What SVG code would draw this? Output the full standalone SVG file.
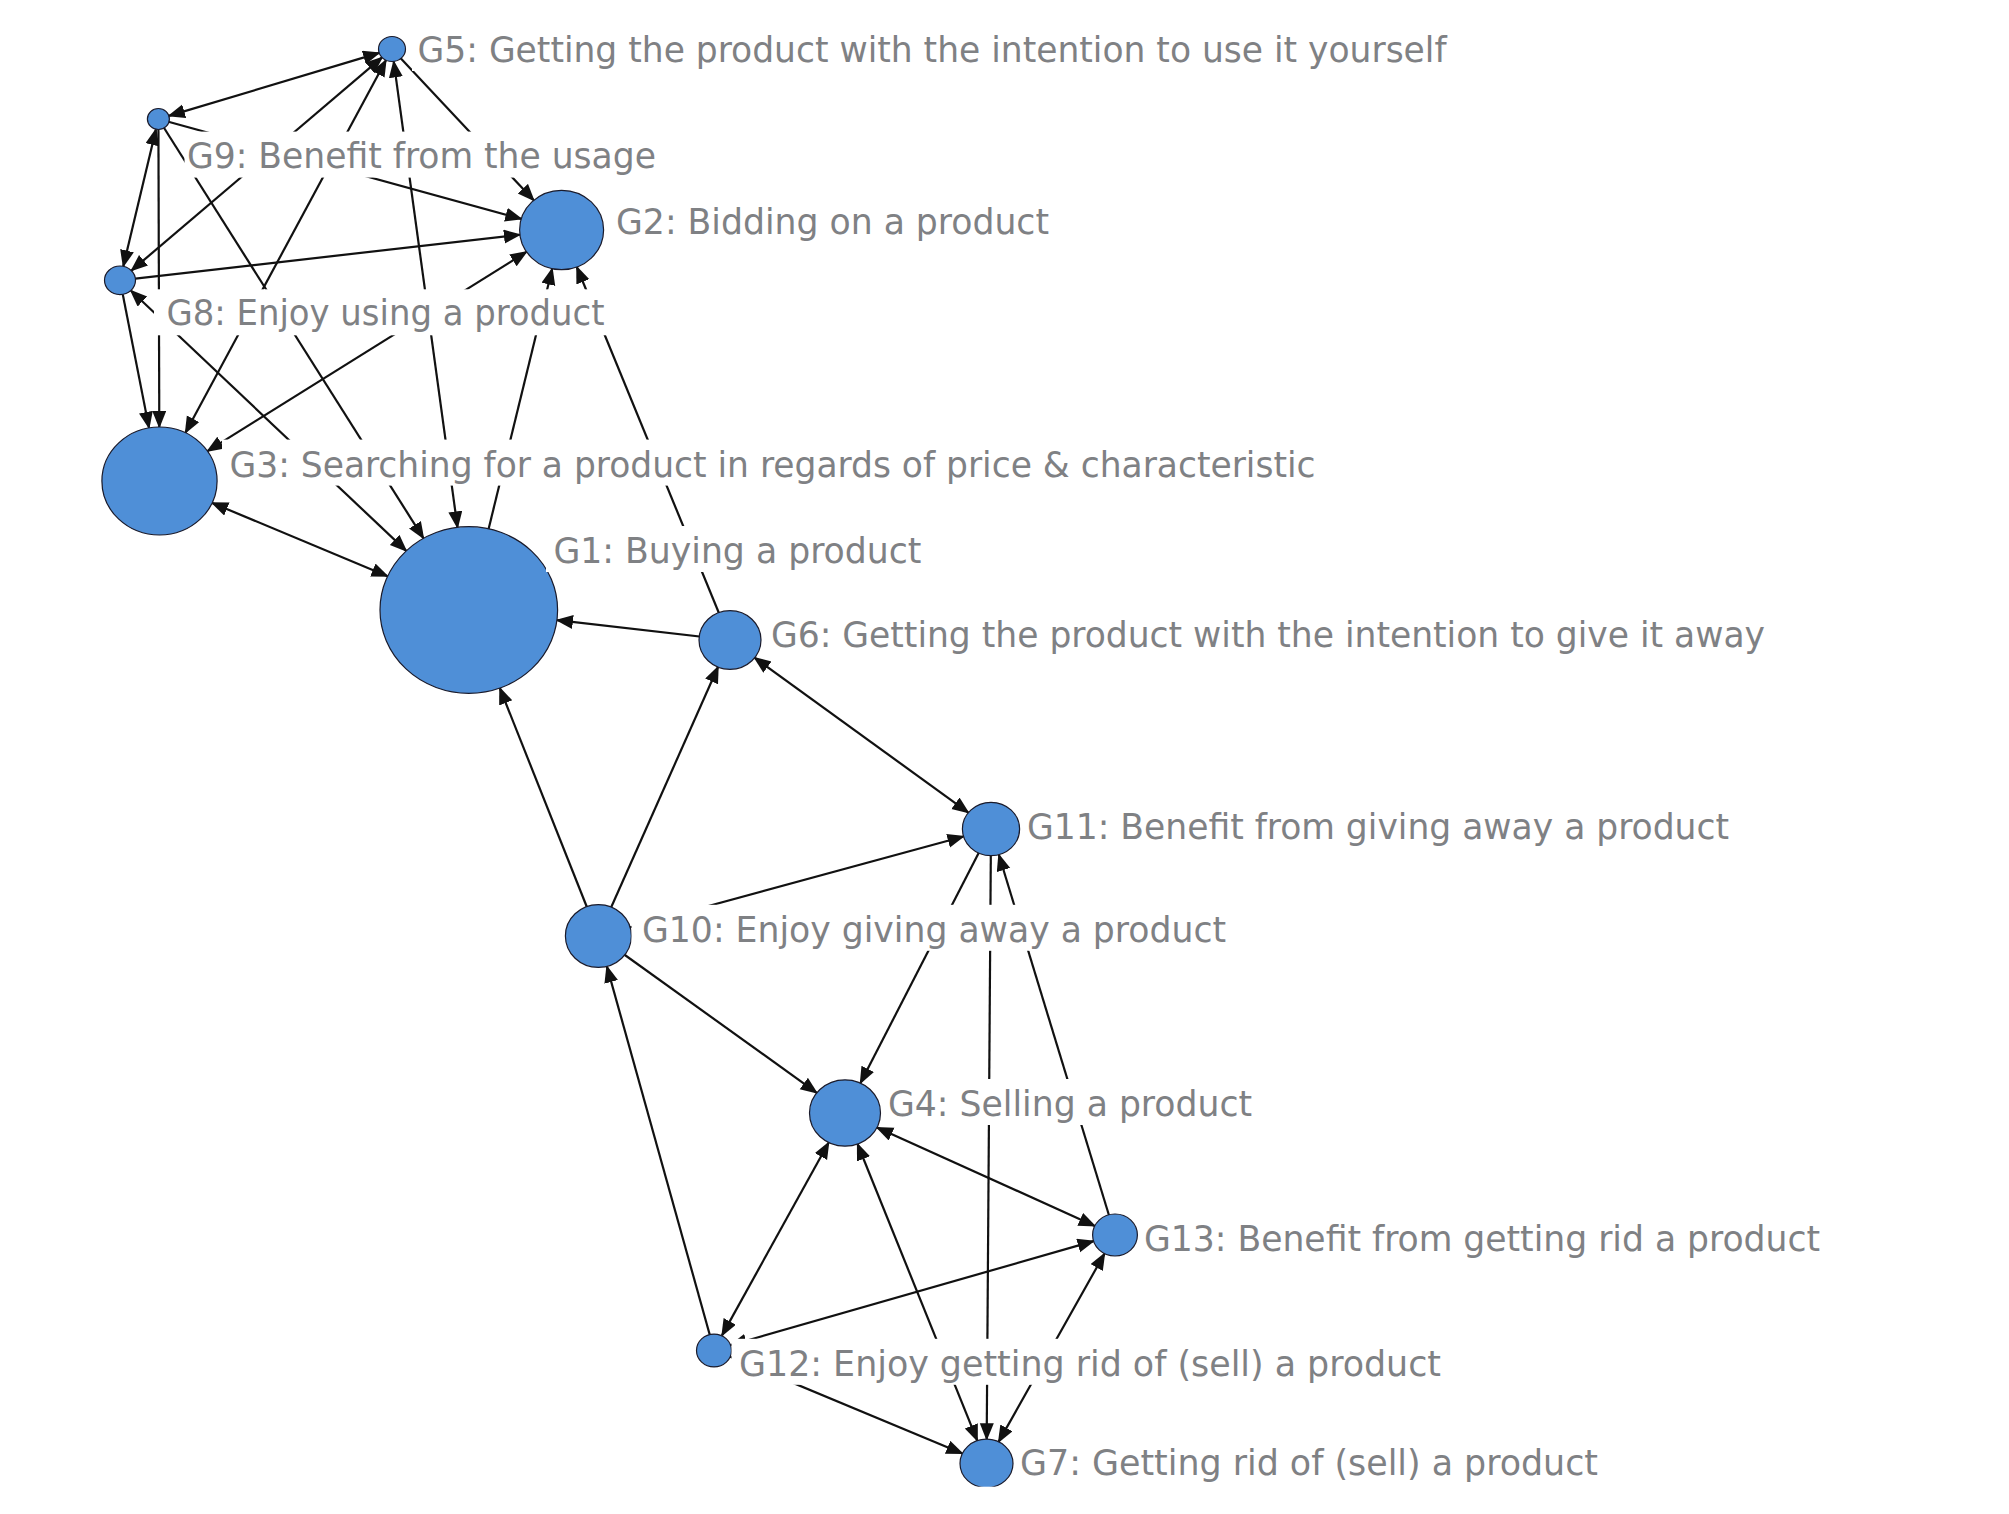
<svg xmlns="http://www.w3.org/2000/svg" width="2009" height="1514" viewBox="0 0 2009 1514">
<style>
.n{fill:#4f8fd7;stroke:#1a1a2a;stroke-width:1.2}
.b{fill:#fff}
.t{font-family:"DejaVu Sans Condensed","DejaVu Sans",sans-serif;font-size:35px;fill:#7f8184}
#edges line{stroke:#111;stroke-width:2.2;fill:none}
.e{marker-end:url(#a)}
.d{marker-start:url(#a);marker-end:url(#a)}
</style>
<defs><marker id="a" markerUnits="userSpaceOnUse" markerWidth="19" markerHeight="15" refX="16" refY="7" orient="auto-start-reverse"><path d="M0 0L17.5 7L0 14z" fill="#111"/></marker></defs>
<rect width="2009" height="1514" fill="#fff"/>
<g id="edges">
<line class="d" x1="379.15" y1="52.85" x2="168.9" y2="115.9"/>
<line class="d" x1="382.06" y1="57.45" x2="131.4" y2="270.6"/>
<line class="d" x1="385.98" y1="60.19" x2="185.45" y2="432.8"/>
<line class="d" x1="393.7" y1="61.4" x2="457.5" y2="527.4"/>
<line class="e" x1="392" y1="49" x2="533.8" y2="200.3"/>
<line class="e" x1="158.4" y1="119" x2="521.3" y2="218.9"/>
<line class="e" x1="158.4" y1="119" x2="423.5" y2="538.3"/>
<line class="d" x1="156" y1="129.2" x2="123.3" y2="266.3"/>
<line class="e" x1="158.4" y1="119" x2="159.3" y2="427"/>
<line class="e" x1="120" y1="280.3" x2="519.9" y2="234.75"/>
<line class="e" x1="120" y1="280.3" x2="149" y2="427.9"/>
<line class="d" x1="130.8" y1="290.5" x2="406.3" y2="550.9"/>
<line class="d" x1="207.4" y1="451.1" x2="526.5" y2="251.9"/>
<line class="e" x1="468.8" y1="610" x2="552.2" y2="268.7"/>
<line class="e" x1="730" y1="640" x2="576.8" y2="267"/>
<line class="d" x1="212.1" y1="502.9" x2="387.6" y2="576.2"/>
<line class="e" x1="730" y1="640" x2="557" y2="620.1"/>
<line class="e" x1="598.4" y1="936" x2="499.8" y2="688"/>
<line class="e" x1="598.4" y1="936" x2="718.1" y2="666.8"/>
<line class="d" x1="754.5" y1="657.7" x2="968.4" y2="812.6"/>
<line class="e" x1="598.4" y1="936" x2="963.55" y2="836.5"/>
<line class="e" x1="991" y1="829" x2="860.4" y2="1083.1"/>
<line class="e" x1="991" y1="829" x2="986.7" y2="1439.2"/>
<line class="e" x1="1115" y1="1235" x2="998.85" y2="854.7"/>
<line class="e" x1="598.4" y1="936" x2="816.8" y2="1092.8"/>
<line class="e" x1="714" y1="1350" x2="606.9" y2="966.4"/>
<line class="d" x1="722" y1="1335.4" x2="828.7" y2="1142.5"/>
<line class="d" x1="877" y1="1127.5" x2="1094.8" y2="1225.9"/>
<line class="d" x1="730.7" y1="1345.2" x2="1093.55" y2="1241.15"/>
<line class="d" x1="857.5" y1="1144" x2="977.3" y2="1440.7"/>
<line class="d" x1="1104.55" y1="1253.6" x2="998.6" y2="1441.9"/>
<line class="e" x1="714" y1="1350" x2="962.4" y2="1453.45"/>
</g>
<g id="G1"><ellipse class="n" cx="468.8" cy="610" rx="88.8" ry="83.3"/><rect class="b" x="546" y="526" width="380" height="46"/><text class="t" x="553.4" y="562.7" textLength="368" lengthAdjust="spacingAndGlyphs">G1: Buying a product</text></g>
<g id="G2"><ellipse class="n" cx="561.6" cy="230" rx="42" ry="39.7"/><rect class="b" x="612" y="197.6" width="441" height="46"/><text class="t" x="616" y="234.3" textLength="433" lengthAdjust="spacingAndGlyphs">G2: Bidding on a product</text></g>
<g id="G3"><ellipse class="n" cx="159.5" cy="481" rx="57.6" ry="54"/><rect class="b" x="222" y="439.6" width="1098" height="46"/><text class="t" x="229.5" y="477.3" textLength="1086" lengthAdjust="spacingAndGlyphs">G3: Searching for a product in regards of price &amp; characteristic</text></g>
<g id="G4"><ellipse class="n" cx="845" cy="1113" rx="35.5" ry="33.2"/><rect class="b" x="882" y="1079" width="374" height="46"/><text class="t" x="888" y="1115.7" textLength="364" lengthAdjust="spacingAndGlyphs">G4: Selling a product</text></g>
<g id="G5"><ellipse class="n" cx="392" cy="49" rx="13.5" ry="12.5"/><rect class="b" x="412" y="25" width="1038" height="46"/><text class="t" x="417.6" y="61.7" textLength="1029" lengthAdjust="spacingAndGlyphs">G5: Getting the product with the intention to use it yourself</text></g>
<g id="G6"><ellipse class="n" cx="730" cy="640" rx="31" ry="29.3"/><rect class="b" x="765" y="610.3" width="1004" height="46"/><text class="t" x="771" y="647" textLength="994" lengthAdjust="spacingAndGlyphs">G6: Getting the product with the intention to give it away</text></g>
<g id="G7"><ellipse class="n" cx="986.5" cy="1463.5" rx="26.5" ry="24.3"/><rect class="b" x="955" y="1486.7" width="65" height="8"/><rect class="b" x="1014" y="1438.3" width="588" height="46"/><text class="t" x="1020" y="1475" textLength="578" lengthAdjust="spacingAndGlyphs">G7: Getting rid of (sell) a product</text></g>
<g id="G8"><ellipse class="n" cx="120" cy="280.3" rx="15.5" ry="14.3"/><rect class="b" x="154" y="289.3" width="455" height="46"/><text class="t" x="166.5" y="325" textLength="438" lengthAdjust="spacingAndGlyphs">G8: Enjoy using a product</text></g>
<g id="G9"><ellipse class="n" cx="158.4" cy="119" rx="11" ry="10.5"/><rect class="b" x="184.5" y="131.6" width="476" height="46"/><text class="t" x="187" y="168.3" textLength="469" lengthAdjust="spacingAndGlyphs">G9: Benefit from the usage</text></g>
<g id="G10"><ellipse class="n" cx="598.4" cy="936" rx="33" ry="31.4"/><rect class="b" x="631.5" y="904.8" width="600" height="46"/><text class="t" x="642" y="941.5" textLength="584" lengthAdjust="spacingAndGlyphs">G10: Enjoy giving away a product</text></g>
<g id="G11"><ellipse class="n" cx="991" cy="829" rx="28.6" ry="26.7"/><rect class="b" x="1021" y="801.8" width="712" height="46"/><text class="t" x="1027" y="838.5" textLength="702" lengthAdjust="spacingAndGlyphs">G11: Benefit from giving away a product</text></g>
<g id="G12"><ellipse class="n" cx="714" cy="1350.5" rx="17.5" ry="16.4"/><rect class="b" x="731.5" y="1338.8" width="715" height="46"/><text class="t" x="739" y="1375.5" textLength="702" lengthAdjust="spacingAndGlyphs">G12: Enjoy getting rid of (sell) a product</text></g>
<g id="G13"><ellipse class="n" cx="1115" cy="1235" rx="22.4" ry="21"/><rect class="b" x="1139" y="1213.8" width="686" height="46"/><text class="t" x="1144" y="1250.5" textLength="676" lengthAdjust="spacingAndGlyphs">G13: Benefit from getting rid a product</text></g>
</svg>
